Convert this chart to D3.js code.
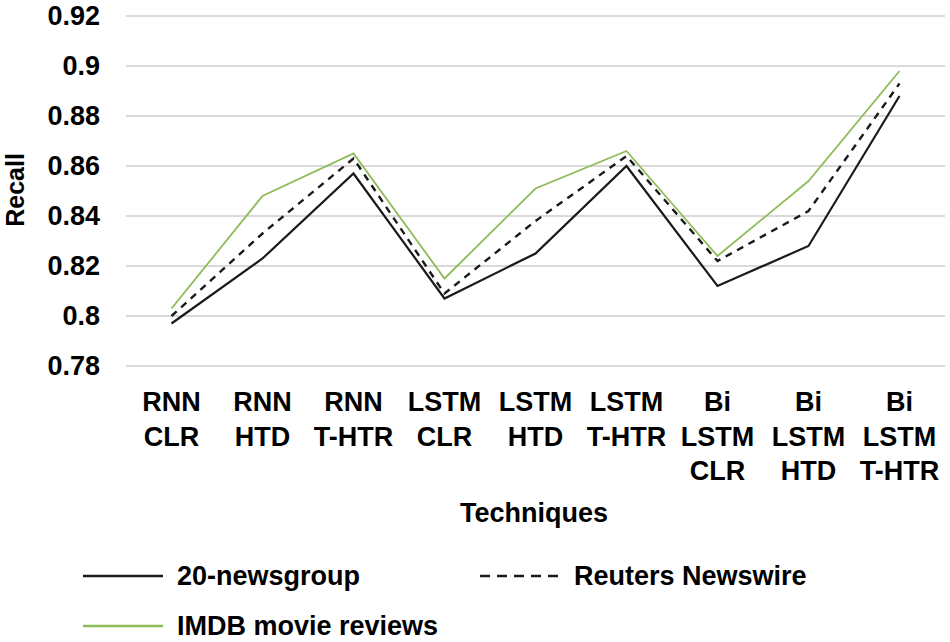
<!DOCTYPE html>
<html>
<head>
<meta charset="utf-8">
<script src="https://cdn.jsdelivr.net/npm/d3@7"></script>
<style>
  body { margin: 0; background: #fff; }
  text { font-family: "Liberation Sans", Arial, sans-serif; font-weight: bold; fill: #000; }
</style>
</head>
<body>
<svg id="chart" width="950" height="642"></svg>
<script>
// categories (multi-line tick labels)
const techniques = [
    ["RNN", "CLR"], ["RNN", "HTD"], ["RNN", "T-HTR"],
    ["LSTM", "CLR"], ["LSTM", "HTD"], ["LSTM", "T-HTR"],
    ["Bi", "LSTM", "CLR"], ["Bi", "LSTM", "HTD"], ["Bi", "LSTM", "T-HTR"]
];
const newsgroup = [0.797, 0.823, 0.857, 0.807, 0.825, 0.860, 0.812, 0.828, 0.888];
const reuters = [0.800, 0.833, 0.863, 0.809, 0.838, 0.864, 0.822, 0.842, 0.893];
const imdb = [0.803, 0.848, 0.865, 0.815, 0.851, 0.866, 0.824, 0.854, 0.898];
const yTicks = [0.78, 0.8, 0.82, 0.84, 0.86, 0.88, 0.9, 0.92];

const seriesNames = ["20-newsgroup", "Reuters Newswire", "IMDB movie reviews"];

const svg = d3.select("#chart");
const plotLeft = 126, plotRight = 945, plotTop = 16, plotBottom = 366;

const keys = techniques.map(d => d.join(" "));
const x = d3.scaleBand()
    .domain(keys)
    .range([plotLeft, plotRight]);

const y = d3.scaleLinear()
    .domain([0.78, 0.92])
    .range([plotBottom, plotTop]);

// gridlines
svg.append("g")
    .selectAll("line")
    .data(yTicks)
    .enter()
    .append("line")
    .attr("x1", plotLeft)
    .attr("x2", plotRight)
    .attr("y1", d => y(d))
    .attr("y2", d => y(d))
    .attr("stroke", "#d9d9d9")
    .attr("stroke-width", 2);

// y axis labels
const yAxis = svg.append("g")
    .attr("transform", `translate(${plotLeft},0)`)
    .call(d3.axisLeft(y).tickValues(yTicks).tickSize(0).tickPadding(26).tickFormat(d => String(+d.toFixed(2))));
yAxis.select(".domain").remove();
yAxis.selectAll("text")
    .attr("font-size", 27)
    .attr("font-family", "Liberation Sans, Arial, sans-serif")
    .attr("font-weight", "bold")
    .attr("fill", "#000");

// x axis labels
const xAxis = svg.append("g")
    .attr("transform", `translate(0,${plotBottom})`)
    .call(d3.axisBottom(x).tickSize(0).tickFormat(""));
xAxis.select(".domain").remove();
xAxis.selectAll(".tick").each(function (d, i) {
    const t = d3.select(this).append("text")
        .attr("text-anchor", "middle")
        .attr("font-size", 27)
        .attr("fill", "#000");
    techniques[i].forEach((line, j) => {
        t.append("tspan")
            .attr("x", 0)
            .attr("y", 45 + j * 34.5)
            .text(line);
    });
});

// lines
const line = d3.line()
    .x((d, i) => x(keys[i]) + x.bandwidth() / 2)
    .y(d => y(d));

svg.append("path")
    .datum(newsgroup)
    .attr("d", line)
    .attr("fill", "none")
    .attr("stroke", "#1a1a1a")
    .attr("stroke-width", 2.2);

svg.append("path")
    .datum(reuters)
    .attr("d", line)
    .attr("fill", "none")
    .attr("stroke", "#1a1a1a")
    .attr("stroke-width", 2.4)
    .attr("stroke-dasharray", "7,6");

svg.append("path")
    .datum(imdb)
    .attr("d", line)
    .attr("fill", "none")
    .attr("stroke", "#8fbc5a")
    .attr("stroke-width", 1.8);

// axis titles
svg.append("text")
    .attr("transform", "translate(24,190) rotate(-90)")
    .attr("text-anchor", "middle")
    .attr("font-size", 25)
    .text("Recall");

svg.append("text")
    .attr("x", 534)
    .attr("y", 522)
    .attr("text-anchor", "middle")
    .attr("font-size", 27)
    .text("Techniques");

// legend
const legend = [
    { name: seriesNames[0], x: 83, y: 576, stroke: "#1a1a1a", dash: null },
    { name: seriesNames[1], x: 480, y: 576, stroke: "#1a1a1a", dash: "10,7" },
    { name: seriesNames[2], x: 83, y: 626, stroke: "#8fbc5a", dash: null }
];
const lg = svg.append("g");
legend.forEach(l => {
    lg.append("line")
        .attr("x1", l.x).attr("x2", l.x + 80)
        .attr("y1", l.y).attr("y2", l.y)
        .attr("stroke", l.stroke)
        .attr("stroke-width", 2.5)
        .attr("stroke-dasharray", l.dash);
    lg.append("text")
        .attr("x", l.x + 94)
        .attr("y", l.y + 9)
        .attr("font-size", 27)
        .text(l.name);
});
</script>
</body>
</html>
